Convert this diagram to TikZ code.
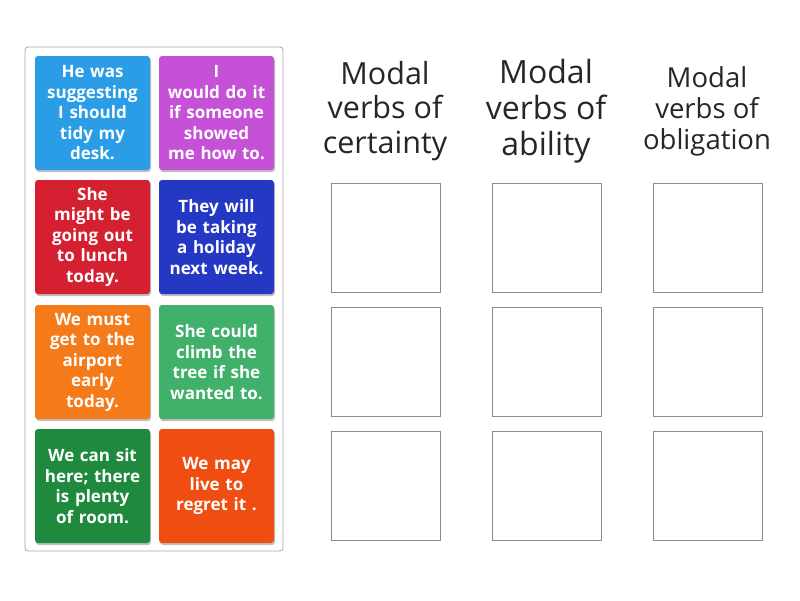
\documentclass[tikz,border=0pt]{standalone}
\usepackage{fontspec}
\setmainfont{Open Sans}
\begin{document}
\begin{tikzpicture}[x=1pt,y=-1pt,
card/.style={rounded corners=3pt,text=white,align=center,font=\bfseries\fontsize{17}{20.5}\selectfont,text width=112pt,inner sep=0pt},
slot/.style={draw=black!45,line width=0.8pt},
head/.style={align=center,text=black!85}]
\useasboundingbox (0,0) rectangle (800,600);
\draw[black!35,rounded corners=3pt,line width=0.8pt] (25,47) rectangle (283,551);
\definecolor{c1}{HTML}{2A9DE6}\definecolor{c2}{HTML}{C552D6}
\definecolor{c3}{HTML}{D42030}\definecolor{c4}{HTML}{2438C4}
\definecolor{c5}{HTML}{F47A1A}\definecolor{c6}{HTML}{40B06A}
\definecolor{c7}{HTML}{1F8A3E}\definecolor{c8}{HTML}{F04D12}
\foreach \x/\y/\c/\n in {35/56/c1/a,159/56/c2/b,35/180/c3/c,159/180/c4/d,35/305/c5/e,159/305/c6/f,35/429/c7/g,159/429/c8/h}{
 \fill[black!25,rounded corners=3pt] (\x+1,\y+2) rectangle (\x+116,\y+116);
 \fill[\c,rounded corners=3pt] (\x,\y) rectangle (\x+115,\y+114);
 \coordinate (\n) at (\x+57.5,\y+57);
}
\node[card] (ta) at (a) {He was\\suggesting\\I should\\tidy my\\desk.};
\node[card] (tb) at (b) {I\\would do it\\if someone\\showed\\me how to.};
\node[card] (tc) at (c) {She\\might be\\going out\\to lunch\\today.};
\node[card] (td) at (d) {They will\\be taking\\a holiday\\next week.};
\node[card] (te) at (e) {We must\\get to the\\airport\\early\\today.};
\node[card] (tf) at (f) {She could\\climb the\\tree if she\\wanted to.};
\node[card] (tg) at (g) {We can sit\\here; there\\is plenty\\of room.};
\node[card] (th) at (h) {We may\\live to\\regret it .};
\foreach \x in {331,492,653}\foreach \y in {183,307,431}
 \draw[slot] (\x,\y) rectangle (\x+109,\y+109);
\node[head,font=\fontsize{30.5}{34.5}\selectfont] (h1) at (385,111) {Modal\\verbs of\\certainty};
\node[head,font=\fontsize{32}{36}\selectfont] (h2) at (546,111) {Modal\\verbs of\\ability};
\node[head,font=\fontsize{27.5}{31}\selectfont] (h3) at (707,111) {Modal\\verbs of\\obligation};
\end{tikzpicture}
\end{document}
